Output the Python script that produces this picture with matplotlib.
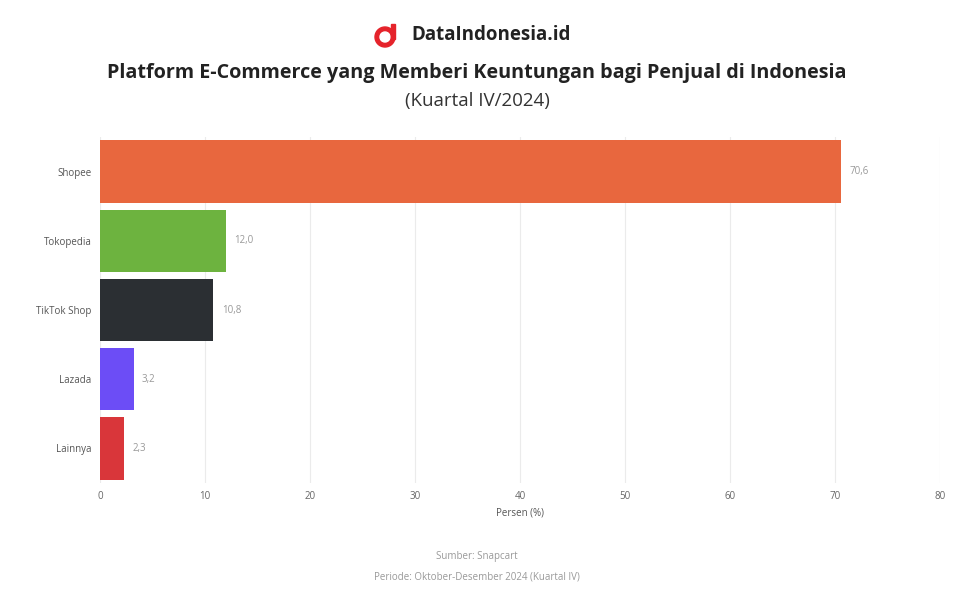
import matplotlib.pyplot as plt
import matplotlib.patches as mpatches

platforms = ['Shopee', 'Tokopedia', 'TikTok Shop', 'Lazada', 'Lainnya']
share = [70.6, 12.0, 10.8, 3.2, 2.3]
colors = ['#E8673E', '#6DB33F', '#2B2F33', '#6C4DF6', '#D9363A']
xticks = [0, 10, 20, 30, 40, 50, 60, 70, 80]

plt.rcParams['font.family'] = ['Open Sans', 'DejaVu Sans']

fig = plt.figure(figsize=(9.54, 5.96), dpi=100, facecolor='w')
ax = fig.add_axes([100 / 954, 1 - 483 / 596, 840 / 954, 346 / 596])

y = list(range(len(platforms)))
ax.barh(y, share, height=0.9, color=colors, zorder=3)
for yi, v in zip(y, share):
    ax.text(v + 0.8, yi, f'{v:.1f}'.replace('.', ','), va='center', ha='left',
            fontsize=7, color='#999999')

ax.set_yticks(y)
ax.set_yticklabels(platforms, fontsize=7, color='#555555')
ax.set_ylim(len(platforms) - 0.5, -0.5)
ax.set_xlim(0, 80)
ax.set_xticks(xticks)
ax.set_xticklabels([str(t) for t in xticks], fontsize=7, color='#666666')
ax.set_xlabel('Persen (%)', fontsize=7, color='#555555')
ax.grid(axis='x', color='#ebebeb', lw=0.8, zorder=0)
for s in ax.spines.values():
    s.set_visible(False)
ax.tick_params(length=0, pad=6)

# header logo
cx, cy = 385 / 954, 1 - 37 / 596
fig.patches.append(mpatches.Ellipse((cx, cy), 20 / 954, 20 / 596,
                                    transform=fig.transFigure, color='#E5232B'))
fig.patches.append(mpatches.Ellipse((cx, cy), 10 / 954, 10 / 596,
                                    transform=fig.transFigure, color='w'))
fig.patches.append(mpatches.Rectangle((cx + 6 / 954, cy - 2 / 596), 4 / 954, 15 / 596,
                                      transform=fig.transFigure, color='#E5232B'))
fig.text(411 / 954, 1 - 35 / 596, 'DataIndonesia.id', fontsize=13.5,
         fontweight='bold', color='#222222', va='center', ha='left')
fig.text(0.5, 1 - 73 / 596,
         'Platform E-Commerce yang Memberi Keuntungan bagi Penjual di Indonesia',
         fontsize=14.2, fontweight='bold', color='#222222', ha='center', va='center')
fig.text(0.5, 1 - 101 / 596, '(Kuartal IV/2024)', fontsize=13.5,
         color='#333333', ha='center', va='center')

# footer
fig.text(0.5, 1 - 557 / 596, 'Sumber: Snapcart', fontsize=7,
         color='#999999', ha='center', va='center')
fig.text(0.5, 1 - 577 / 596, 'Periode: Oktober-Desember 2024 (Kuartal IV)', fontsize=7,
         color='#999999', ha='center', va='center')

plt.savefig('out.png', dpi=100, facecolor='w')
